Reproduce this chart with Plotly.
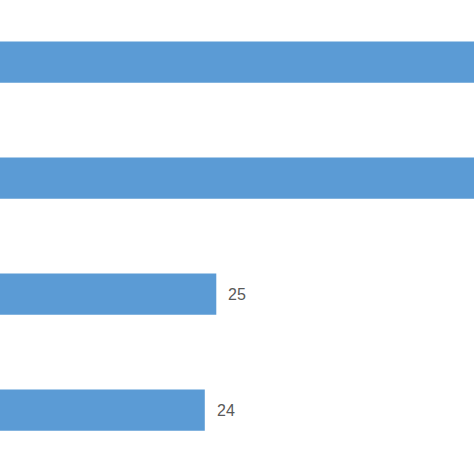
import plotly.graph_objects as go

categories = ["Item 1", "Item 2", "Item 3", "Item 4"]
values = [62, 58, 25, 24]
bar_color = "#5b9bd5"

fig = go.Figure()
fig.add_trace(go.Bar(
    y=categories,
    x=values,
    orientation="h",
    marker=dict(color=bar_color, line=dict(width=0)),
    width=0.355,
    hoverinfo="skip",
))

for c, v in zip(categories, values):
    fig.add_annotation(
        x=v, y=c, xref="x", yref="y",
        text=str(v), showarrow=False,
        xanchor="left", yanchor="middle", xshift=10,
        font=dict(family="Liberation Sans, Arial, sans-serif", size=16, color="#595959"),
    )

fig.update_layout(
    width=474, height=474,
    margin=dict(l=0, r=0, t=0, b=0),
    paper_bgcolor="white", plot_bgcolor="white",
    showlegend=False,
    xaxis=dict(range=[6.2, 47.4], visible=False, showgrid=False, zeroline=False),
    yaxis=dict(range=[3.55, -0.536], visible=False, showgrid=False, zeroline=False,
               categoryorder="array", categoryarray=categories),
)

fig.write_html("out.html", config={"displayModeBar": False, "staticPlot": True},
               post_script="document.body.style.margin='0';document.body.style.overflow='hidden';")
